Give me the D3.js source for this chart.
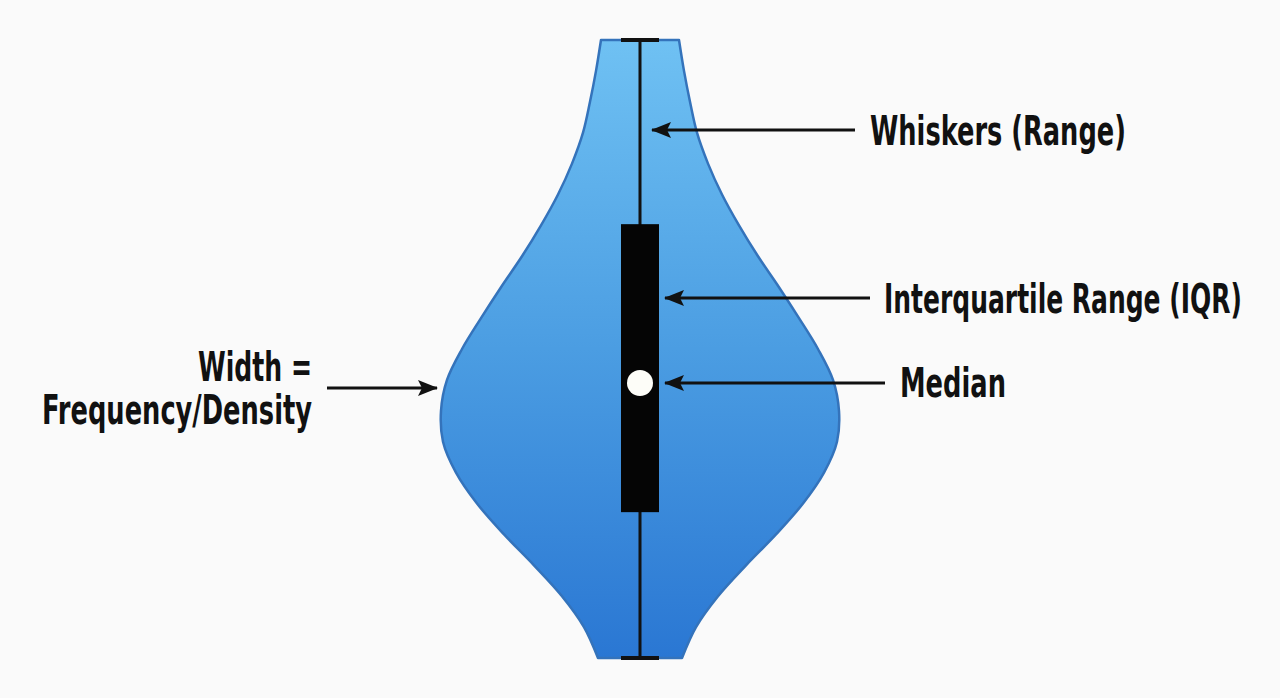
<!DOCTYPE html>
<html>
<head>
<meta charset="utf-8">
<script src="https://cdn.jsdelivr.net/npm/d3@7"></script>
<style>
  html, body { margin: 0; padding: 0; background: #fafafa; }
  svg { display: block; }
  .lbl { font-family: 'Liberation Sans Narrow', 'DejaVu Sans Condensed', Arial, sans-serif; font-weight: bold; fill: #111; }
</style>
</head>
<body>
<div id="chart"></div>
<script>
// value levels along the violin and the density read at each one (normalised 0-1)
var levels  = [0, 5, 10, 15, 20, 25, 30, 35, 40, 45, 50, 55, 60, 65, 70, 75, 80, 85, 90, 95, 100];
var density = [0.21, 0.28, 0.39, 0.53, 0.68, 0.815, 0.92, 0.985, 0.995, 0.965, 0.89, 0.795, 0.695, 0.59, 0.495, 0.41, 0.34, 0.285, 0.25, 0.22, 0.195];

// five number summary
var whiskerMin = 0, q1 = 23.6, median = 44.5, q3 = 70.2, whiskerMax = 100;

var width = 1280, height = 698;
var cx = 640;

var svg = d3.select("#chart").append("svg")
  .attr("width", width)
  .attr("height", height);

var y = d3.scaleLinear().domain([0, 100]).range([658, 40]);
var w = d3.scaleLinear().domain([0, 1]).range([0, 200]);

// gradient fill, light top -> deeper blue bottom
var defs = svg.append("defs");
var grad = defs.append("linearGradient")
  .attr("id", "vfill")
  .attr("x1", 0).attr("y1", 0).attr("x2", 0).attr("y2", 1);
grad.append("stop").attr("offset", "0%").attr("stop-color", "#6fc1f3");
grad.append("stop").attr("offset", "50%").attr("stop-color", "#4b9de2");
grad.append("stop").attr("offset", "100%").attr("stop-color", "#2a77d3");

defs.append("marker")
  .attr("id", "head")
  .attr("viewBox", "0 0 20 16")
  .attr("refX", 19).attr("refY", 8)
  .attr("markerWidth", 20).attr("markerHeight", 16)
  .attr("markerUnits", "userSpaceOnUse")
  .attr("orient", "auto")
  .append("path")
  .attr("d", "M0,0 L20,8 L0,16 L4,8 Z")
  .attr("fill", "#111");

var pts = levels.map(function (v, i) { return { v: v, d: density[i] }; });

var area = d3.area()
  .y(function (d) { return y(d.v); })
  .x0(function (d) { return cx - w(d.d); })
  .x1(function (d) { return cx + w(d.d); })
  .curve(d3.curveCatmullRom.alpha(0.5));

svg.append("path")
  .datum(pts)
  .attr("d", area)
  .attr("fill", "url(#vfill)")
  .attr("stroke", "#3473bb")
  .attr("stroke-width", 2.5)
  .attr("stroke-linejoin", "round");

// whisker line + caps
svg.append("line")
  .attr("x1", cx).attr("x2", cx)
  .attr("y1", y(whiskerMin)).attr("y2", y(whiskerMax))
  .attr("stroke", "#111").attr("stroke-width", 3);

[whiskerMin, whiskerMax].forEach(function (v) {
  svg.append("line")
    .attr("x1", cx - 19).attr("x2", cx + 19)
    .attr("y1", y(v)).attr("y2", y(v))
    .attr("stroke", "#111").attr("stroke-width", 4);
});

// IQR box
svg.append("rect")
  .attr("x", cx - 19).attr("width", 38)
  .attr("y", y(q3)).attr("height", y(q1) - y(q3))
  .attr("fill", "#050505");

// median dot
svg.append("circle")
  .attr("cx", cx).attr("cy", y(median)).attr("r", 13)
  .attr("fill", "#fdfdf8");

// squeeze a label horizontally so it spans the wanted width (condensed look)
function label(txt, x, yb, targetW, anchor) {
  var t = svg.append("text")
    .attr("class", "lbl")
    .attr("font-size", 40)
    .attr("text-anchor", anchor || "start")
    .text(txt);
  var nat = t.node().getComputedTextLength();
  var sx = targetW / nat;
  t.attr("transform", "translate(" + x + "," + yb + ") scale(" + sx + ",1)");
  return t;
}

// annotations
var notes = [
  { text: "Whiskers (Range)", x1: 855, x2: 652, y: 130, tx: 870, ty: 145, tw: 256 },
  { text: "Interquartile Range (IQR)", x1: 870, x2: 665, y: 298, tx: 884, ty: 313, tw: 358 },
  { text: "Median", x1: 885, x2: 665, y: y(median), tx: 900, ty: 397, tw: 106 }
];

notes.forEach(function (n) {
  svg.append("line")
    .attr("x1", n.x1).attr("x2", n.x2)
    .attr("y1", n.y).attr("y2", n.y)
    .attr("stroke", "#111").attr("stroke-width", 3)
    .attr("marker-end", "url(#head)");
  label(n.text, n.tx, n.ty, n.tw);
});

// left note
svg.append("line")
  .attr("x1", 327).attr("x2", 437)
  .attr("y1", 388).attr("y2", 388)
  .attr("stroke", "#111").attr("stroke-width", 3)
  .attr("marker-end", "url(#head)");

label("Width =", 312, 381, 114, "end");
label("Frequency/Density", 312, 424, 270, "end");
</script>
</body>
</html>
